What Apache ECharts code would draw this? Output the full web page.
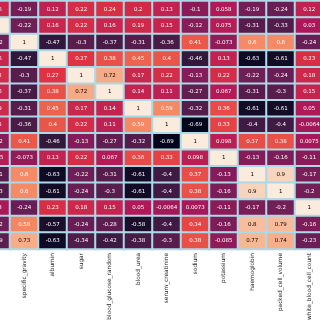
<!DOCTYPE html>
<html><head><meta charset="utf-8">
<script src="https://cdn.jsdelivr.net/npm/echarts@6/dist/echarts.min.js"></script>
<style>html,body{margin:0;padding:0;background:#fff;}#c{width:320px;height:320px;}</style>
</head><body><div id="c"></div>
<script>
var columns = ['blood_pressure','specific_gravity','albumin','sugar','blood_glucose_random','blood_urea','serum_creatinine','sodium','potassium','haemoglobin','packed_cell_volume','white_blood_cell_count'];
var rows = ['age','blood_pressure','specific_gravity','albumin','sugar','blood_glucose_random','blood_urea','serum_creatinine','sodium','potassium','haemoglobin','packed_cell_volume','white_blood_cell_count','red_blood_cell_count','class'];

var rowAge   = [0.16, -0.19, 0.12, 0.22, 0.24, 0.2, 0.13, -0.1, 0.058, -0.19, -0.24, 0.12];
var rowBp    = [1, -0.22, 0.16, 0.22, 0.16, 0.19, 0.15, -0.12, 0.075, -0.31, -0.33, 0.03];
var rowSg    = [-0.22, 1, -0.47, -0.3, -0.37, -0.31, -0.36, 0.41, -0.073, 0.6, 0.6, -0.24];
var rowAl    = [0.16, -0.47, 1, 0.27, 0.38, 0.45, 0.4, -0.46, 0.13, -0.63, -0.61, 0.23];
var rowSu    = [0.22, -0.3, 0.27, 1, 0.72, 0.17, 0.22, -0.13, 0.22, -0.22, -0.24, 0.18];
var rowBgr   = [0.16, -0.37, 0.38, 0.72, 1, 0.14, 0.11, -0.27, 0.067, -0.31, -0.3, 0.15];
var rowBu    = [0.19, -0.31, 0.45, 0.17, 0.14, 1, 0.59, -0.32, 0.36, -0.61, -0.61, 0.05];
var rowSc    = [0.15, -0.36, 0.4, 0.22, 0.11, 0.59, 1, -0.69, 0.33, -0.4, -0.4, -0.0064];
var rowSod   = [-0.12, 0.41, -0.46, -0.13, -0.27, -0.32, -0.69, 1, 0.098, 0.37, 0.38, 0.0075];
var rowPot   = [0.075, -0.073, 0.13, 0.22, 0.067, 0.36, 0.33, 0.098, 1, -0.13, -0.16, -0.11];
var rowHemo  = [-0.31, 0.6, -0.63, -0.22, -0.31, -0.61, -0.4, 0.37, -0.13, 1, 0.9, -0.17];
var rowPcv   = [-0.33, 0.6, -0.61, -0.24, -0.3, -0.61, -0.4, 0.38, -0.16, 0.9, 1, -0.2];
var rowWbcc  = [0.03, -0.24, 0.23, 0.18, 0.15, 0.05, -0.0064, 0.0073, -0.11, -0.17, -0.2, 1];
var rowRbcc  = [-0.22, 0.58, -0.57, -0.24, -0.28, -0.58, -0.4, 0.34, -0.16, 0.8, 0.79, -0.16];
var rowClass = [-0.29, 0.73, -0.63, -0.34, -0.42, -0.38, -0.3, 0.38, -0.085, 0.77, 0.74, -0.23];

var matrix = [rowAge,rowBp,rowSg,rowAl,rowSu,rowBgr,rowBu,rowSc,rowSod,rowPot,rowHemo,rowPcv,rowWbcc,rowRbcc,rowClass];

var vmin = -0.69, vmax = 1;
var rocket = ['#03051a','#35193e','#701f57','#ad1759','#e13342','#f37651','#f6b48f','#faebdd'];

function hexToRgb(h){return [parseInt(h.substr(1,2),16),parseInt(h.substr(3,2),16),parseInt(h.substr(5,2),16)];}
function colorAt(v){
  var t = (v - vmin)/(vmax - vmin); t = Math.max(0, Math.min(1, t));
  var p = t*(rocket.length-1); var i = Math.min(Math.floor(p), rocket.length-2); var f = p - i;
  var a = hexToRgb(rocket[i]), b = hexToRgb(rocket[i+1]);
  return [a[0]+(b[0]-a[0])*f, a[1]+(b[1]-a[1])*f, a[2]+(b[2]-a[2])*f];
}
function lum(rgb){
  var c = rgb.map(function(x){x/=255; return x<=0.03928 ? x/12.92 : Math.pow((x+0.055)/1.055,2.4);});
  return 0.2126*c[0]+0.7152*c[1]+0.0722*c[2];
}

var data = [];
for (var r = 0; r < matrix.length; r++) {
  for (var c = 0; c < columns.length; c++) {
    var v = matrix[r][c];
    data.push({value:[c, r, v], label:{color: lum(colorAt(v)) > 0.408 ? '#000000' : '#ffffff'}});
  }
}

var chart = echarts.init(document.getElementById('c'), null, {renderer:'canvas'});
chart.setOption({
  animation: false,
  backgroundColor: '#ffffff',
  grid: {left: -18.5, top: 1, width: 342, height: 248, containLabel: false, outerBoundsMode: 'none'},
  xAxis: {
    type: 'category', data: columns, position: 'bottom',
    axisLine: {show: false}, axisTick: {show: false}, splitLine: {show: false},
    axisLabel: {interval: 0, rotate: 90, fontSize: 5.8, color: '#262626', fontFamily: 'DejaVu Sans', margin: 4, hideOverlap: false}
  },
  yAxis: {
    type: 'category', data: rows, inverse: true,
    axisLine: {show: false}, axisTick: {show: false}, splitLine: {show: false},
    axisLabel: {fontSize: 5.8, color: '#262626', fontFamily: 'DejaVu Sans'}
  },
  visualMap: {show: false, min: vmin, max: vmax, dimension: 2, inRange: {color: rocket}},
  series: [{
    type: 'heatmap', data: data,
    itemStyle: {borderColor: '#add8e6', borderWidth: 2},
    label: {show: true, fontSize: 5.5, fontFamily: 'DejaVu Sans',
      formatter: function(p){return String(p.value[2]);}},
    emphasis: {disabled: true}
  }]
});
</script></body></html>
